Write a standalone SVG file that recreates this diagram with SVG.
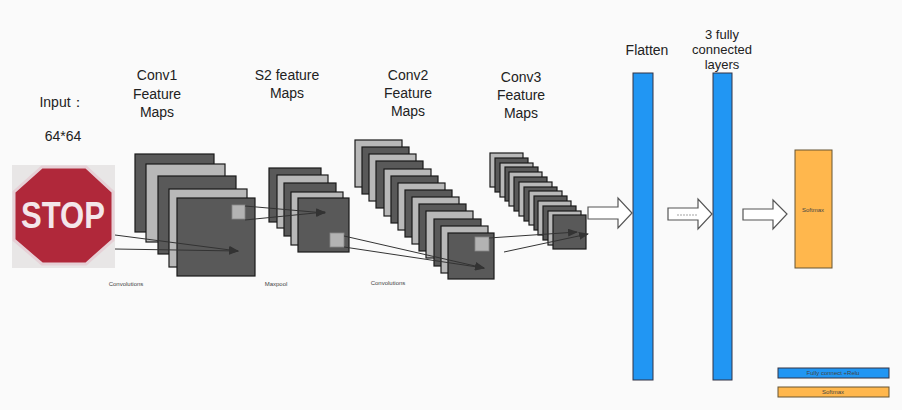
<svg xmlns="http://www.w3.org/2000/svg" width="902" height="410" viewBox="0 0 902 410">
<defs>
<style>
.d{fill:#595959;stroke:#1a1a1a;stroke-width:1.2}
.l{fill:#b8b8b8;stroke:#1a1a1a;stroke-width:1.2}
.sq{fill:#b3b3b3;stroke:#888;stroke-width:0.8}
.t{font-family:"Liberation Sans",Arial,sans-serif;font-size:14px;fill:#222;text-anchor:middle}
.s{font-family:"Liberation Sans",Arial,sans-serif;font-size:6px;fill:#444;text-anchor:middle}
.c{stroke:#333;stroke-width:1;fill:none;marker-end:url(#ah)}
.ba{fill:#fff;stroke:#555;stroke-width:1.2}
.blue{fill:#2196f3;stroke:#334;stroke-width:1}
.or{fill:#ffb74d;stroke:#665533;stroke-width:1}
</style>
<marker id="ah" markerWidth="10" markerHeight="8" refX="9" refY="4" orient="auto" markerUnits="userSpaceOnUse"><path d="M0,0 L10,4 L0,8 z" fill="#333"/></marker>
</defs>
<rect width="902" height="410" fill="#fafafa"/>
<g id="input">
<text class="t" x="62" y="107">Input：</text>
<text class="t" x="63" y="141">64*64</text>
<rect x="12" y="165" width="103" height="103" fill="#e8e6e6"/>
<polygon points="42,167 86,167 113,192 113,240 86,264 42,264 14,240 14,192" fill="#b0283a" stroke="#e6d0d6" stroke-width="3"/>
<text x="63" y="228" font-family="Liberation Sans Narrow,Liberation Sans,Arial,sans-serif" font-weight="bold" font-size="36" fill="#f4e6ea" text-anchor="middle" textLength="84" lengthAdjust="spacingAndGlyphs">STOP</text>
</g>
<g id="conv1">
<text class="t" x="157" y="80">Conv1</text><text class="t" x="157" y="99">Feature</text><text class="t" x="157" y="117">Maps</text>
<rect class="d" x="135" y="154" width="79" height="78"/>
<rect class="l" x="146" y="164" width="79" height="78"/>
<rect class="d" x="158" y="176" width="78" height="78"/>
<rect class="l" x="169" y="189" width="78" height="78"/>
<rect class="d" x="177" y="198" width="78" height="78"/>
<rect class="sq" x="232" y="205" width="13" height="14"/>
<text class="s" x="126" y="286">Convolutions</text>
</g>
<g id="s2">
<text class="t" x="287" y="80">S2 feature</text><text class="t" x="287" y="98">Maps</text>
<rect class="d" x="269" y="168" width="52" height="54"/>
<rect class="l" x="277" y="175" width="51" height="53"/>
<rect class="d" x="284" y="183" width="52" height="53"/>
<rect class="l" x="291" y="192" width="52" height="53"/>
<rect class="d" x="298" y="198" width="51" height="54"/>
<rect class="sq" x="330" y="233" width="14" height="14"/>
<text class="s" x="276" y="286">Maxpool</text>
</g>
<g id="conv2">
<text class="t" x="408" y="80">Conv2</text><text class="t" x="408" y="98">Feature</text><text class="t" x="408" y="116">Maps</text>
<rect class="l" x="355" y="140" width="47" height="47"/>
<rect class="d" x="362" y="147" width="47" height="47"/>
<rect class="l" x="369" y="154" width="47" height="47"/>
<rect class="d" x="376" y="161" width="47" height="47"/>
<rect class="l" x="384" y="169" width="47" height="47"/>
<rect class="d" x="391" y="176" width="47" height="47"/>
<rect class="l" x="398" y="183" width="47" height="47"/>
<rect class="d" x="405" y="190" width="47" height="47"/>
<rect class="l" x="412" y="197" width="47" height="47"/>
<rect class="d" x="419" y="204" width="47" height="47"/>
<rect class="l" x="426" y="211" width="47" height="47"/>
<rect class="d" x="434" y="219" width="47" height="47"/>
<rect class="l" x="441" y="226" width="47" height="47"/>
<rect class="d" x="448" y="233" width="46" height="46"/>
<rect class="sq" x="475" y="237" width="14" height="14"/>
<text class="s" x="388" y="285">Convolutions</text>
</g>
<g id="conv3">
<text class="t" x="521" y="82">Conv3</text><text class="t" x="521" y="100">Feature</text><text class="t" x="521" y="118">Maps</text>
<rect class="l" x="490" y="153" width="33" height="34"/>
<rect class="d" x="495" y="158" width="33" height="34"/>
<rect class="l" x="500" y="163" width="33" height="34"/>
<rect class="d" x="505" y="167" width="33" height="34"/>
<rect class="l" x="509" y="172" width="33" height="34"/>
<rect class="d" x="514" y="177" width="33" height="34"/>
<rect class="l" x="519" y="182" width="33" height="34"/>
<rect class="d" x="524" y="187" width="33" height="34"/>
<rect class="l" x="529" y="191" width="33" height="34"/>
<rect class="d" x="534" y="196" width="33" height="34"/>
<rect class="l" x="538" y="201" width="33" height="34"/>
<rect class="d" x="543" y="206" width="33" height="34"/>
<rect class="l" x="548" y="211" width="33" height="34"/>
<rect class="d" x="553" y="215" width="33" height="34"/>
</g>
<g id="flatten">
<text class="t" x="647" y="55">Flatten</text>
<rect class="blue" x="633" y="73" width="20" height="307"/>
</g>
<g id="fc">
<text class="t" x="722" y="39" style="font-size:13px">3 fully</text><text class="t" x="722" y="54" style="font-size:13px">connected</text><text class="t" x="722" y="69" style="font-size:13px">layers</text>
<rect class="blue" x="713" y="73" width="19" height="307"/>
</g>
<g id="softmax">
<rect class="or" x="795" y="150" width="37" height="118"/>
<text class="s" x="813" y="212">Softmax</text>
</g>
<g id="legend">
<rect class="blue" x="778" y="368" width="111" height="10"/>
<text class="s" x="833" y="375">Fully connect +Relu</text>
<rect class="or" x="778" y="387" width="111" height="10"/>
<text class="s" x="833" y="394">Softmax</text>
</g>
<g id="connectors">
<line class="c" x1="115" y1="235" x2="238" y2="251"/>
<line class="c" x1="115" y1="249" x2="238" y2="251"/>
<line class="c" x1="245" y1="206" x2="325" y2="213"/>
<line class="c" x1="245" y1="220" x2="325" y2="212"/>
<line class="c" x1="344" y1="236" x2="484" y2="268"/>
<line class="c" x1="344" y1="247" x2="484" y2="268"/>
<line class="c" x1="489" y1="238" x2="577" y2="232"/>
<line class="c" x1="504" y1="252" x2="588" y2="234"/>
<polygon class="ba" points="588,207 618,207 618,198 632,213 618,228 618,219 588,219"/>
<polygon class="ba" points="668,208 698,208 698,199 712,214 698,229 698,220 668,220"/>
<line x1="677" y1="215" x2="697" y2="215" stroke="#666" stroke-width="0.6" stroke-dasharray="2,1"/>
<polygon class="ba" points="743,209 773,209 773,200 787,214 773,229 773,220 743,220"/>
</g>
</svg>
